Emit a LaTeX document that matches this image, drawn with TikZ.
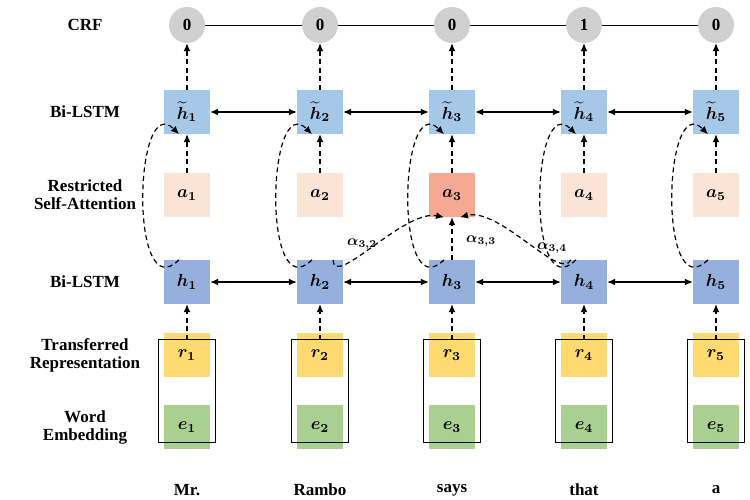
\documentclass[tikz,border=0pt]{standalone}
\usepackage{amsmath}
\usepackage{bm}
\usepackage{fontspec}
\setmainfont{Liberation Serif}
\usetikzlibrary{positioning,arrows.meta}
\definecolor{crfgray}{RGB}{208,208,208}
\definecolor{htop}{RGB}{166,200,232}
\definecolor{hbot}{RGB}{150,176,222}
\definecolor{apale}{RGB}{251,227,214}
\definecolor{astrong}{RGB}{246,168,146}
\definecolor{rcol}{RGB}{255,218,112}
\definecolor{ecol}{RGB}{170,208,145}
\newcommand{\cellmath}[1]{\scalebox{1.75}{$\bm{#1}$}}
\newcommand{\almath}[1]{\scalebox{1.5}{$\bm{#1}$}}
\tikzset{
  cell/.style={minimum width=46pt,minimum height=44pt,inner sep=0pt},
  crf/.style={circle,fill=crfgray,minimum size=36pt,inner sep=0pt,font=\fontsize{17}{17}\selectfont\bfseries},
  lbl/.style={align=center,font=\fontsize{17}{18}\selectfont\bfseries},
  dasharr/.style={-{Latex[length=8pt,width=7pt]},dash pattern=on 5pt off 3.5pt,line width=1.2pt},
  biarr/.style={{Latex[length=8pt,width=7pt]}-{Latex[length=8pt,width=7pt]},line width=1.2pt}
}
\begin{document}
\begin{tikzpicture}[x=1pt,y=-1pt]
\useasboundingbox (0,0) rectangle (750,500);

% labels on the left
\node[lbl] at (85,25) {CRF};
\node[lbl] at (85,112) {Bi-LSTM};
\node[lbl] at (85,195) {Restricted\\Self-Attention};
\node[lbl] at (85,282) {Bi-LSTM};
\node[lbl] at (85,355) {Transferred\\Representation};
\node[lbl] at (85,427) {Word\\Embedding};

\foreach \i/\x/\t/\w in {1/187/0/Mr., 2/320/0/Rambo, 3/452/0/says, 4/584/1/that, 5/716/0/a} {
  \node[crf] (c\i) at (\x,25) {\t};
  \node[cell,fill=htop] (t\i) at (\x,112) {\cellmath{\widetilde{h}_{\i}}};
  \node[cell,fill=apale] (a\i) at (\x,195) {\cellmath{a_{\i}}};
  \node[cell,fill=hbot] (h\i) at (\x,282) {\cellmath{h_{\i}}};
  \node[cell,fill=rcol] (r\i) at (\x,355) {\cellmath{r_{\i}}};
  \node[cell,fill=ecol] (e\i) at (\x,427) {\cellmath{e_{\i}}};
  \draw[line width=0.8pt] ([xshift=-5pt,yshift=-7pt]r\i.north west) rectangle ([xshift=5pt,yshift=7pt]e\i.south east);
  \node[lbl] (w\i) at (\x,490) {\w};
  \draw[dasharr] (t\i) -- (c\i);
  \draw[dasharr] (a\i) -- (t\i);
  \draw[dasharr] ([yshift=-7pt]r\i.north) -- (h\i);
  \draw[dasharr] ([xshift=-8pt]h\i.north) .. controls +(-50pt,-50pt) and +(-45pt,45pt) .. ([xshift=-8pt]t\i.south);
}
\node[cell,fill=astrong] at (a3) {\cellmath{a_{3}}};

% CRF chain
\foreach \i/\j in {1/2,2/3,3/4,4/5} {
  \draw[line width=0.8pt] (c\i) -- (c\j);
  \draw[biarr] (t\i) -- (t\j);
  \draw[biarr] (h\i) -- (h\j);
}

% attention
\draw[dasharr] ([xshift=-10pt]h2.north east) .. controls +(0pt,-30pt) and +(-40pt,8pt) .. ([xshift=-8pt]a3.south);
\draw[dasharr] (h3.north) -- (a3.south);
\draw[dasharr] ([xshift=10pt]h4.north west) .. controls +(-10pt,-22pt) and +(40pt,10pt) .. ([xshift=8pt]a3.south);
\node (al2) at (362,244) {\almath{\alpha_{3,2}}};
\node (al3) at (481,241) {\almath{\alpha_{3,3}}};
\node (al4) at (552,248) {\almath{\alpha_{3,4}}};
\end{tikzpicture}
\end{document}
